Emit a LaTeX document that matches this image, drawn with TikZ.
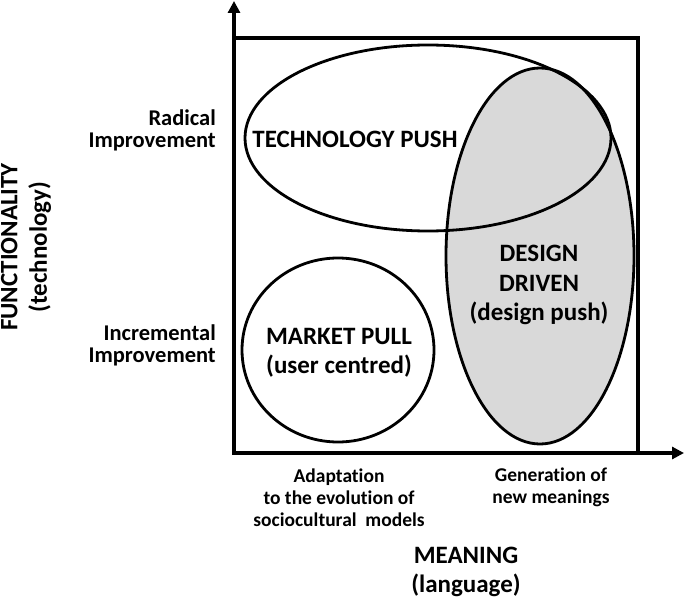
\documentclass[tikz,border=0pt]{standalone}
\usepackage{fontspec}
\setmainfont{Carlito}[Ligatures={NoCommon}]
\usetikzlibrary{shapes.geometric,arrows.meta}
\definecolor{fillgray}{HTML}{D9D9D9}
\tikzset{
  region/.style={ellipse,draw=black,line width=2.8pt,inner sep=0pt},
  biglbl/.style={font=\fontsize{25}{29.5}\selectfont\bfseries,align=center,inner sep=0pt},
  leftlbl/.style={font=\fontsize{22.5}{22}\selectfont\bfseries,inner sep=0pt,align=right,anchor=east},
  botlbl/.style={font=\fontsize{19.5}{22}\selectfont\bfseries,inner sep=0pt,align=center},
  axis/.style={line width=3.5pt,-{Triangle[length=12pt,width=12pt]}},
  frame/.style={draw=black,line width=4pt}
}
\begin{document}
\begin{tikzpicture}[x=1pt,y=-1pt]
\useasboundingbox (0,0) rectangle (685,599);
% frame and axes
\coordinate (o) at (234,453);
\coordinate (ytop) at (234,1);
\coordinate (xend) at (684,453);
\draw[frame] (234,38) rectangle (638,453);
\draw[axis] (o) -- (ytop);
\draw[axis] (o) -- (xend);
% regions
\node[region,fill=fillgray,minimum width=188pt,minimum height=376pt] (dd) at (540,256) {};
\node[region,minimum width=366pt,minimum height=186pt] (tp) at (428,138) {};
\node[region,minimum width=192pt,minimum height=184pt] (mp) at (338,350) {};
% labels
\node[biglbl] (tpl) at (355,139) {TECHNOLOGY PUSH};
\node[biglbl] (mpl) at (339,353) {MARKET PULL\\(user centred)};
\node[biglbl] (ddl) at (539,285) {DESIGN\\DRIVEN\\(design push)};
\node[leftlbl] (rad) at (216,130) {Radical\\Improvement};
\node[leftlbl] (inc) at (216,345) {Incremental\\Improvement};
\node[botlbl] (adp) at (339,498) {Adaptation\\to the evolution of\\sociocultural\ \ models};
\node[botlbl] (gen) at (551,487) {Generation of\\new meanings};
\node[biglbl] (mean) at (466,572) {MEANING\\(language)};
\node[biglbl,rotate=90] (func) at (26,247) {FUNCTIONALITY\\(technology)};
\end{tikzpicture}
\end{document}
